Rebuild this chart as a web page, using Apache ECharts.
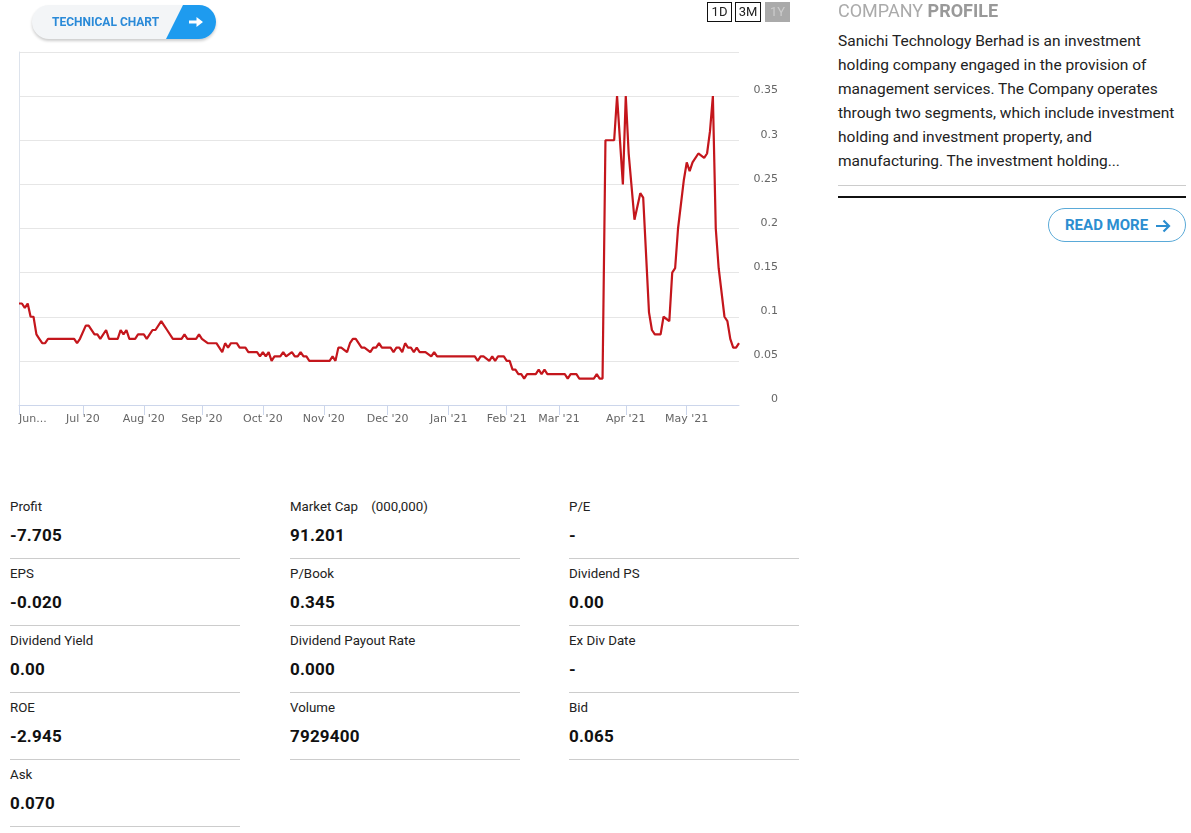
<!DOCTYPE html>
<html lang="en">
<head>
<meta charset="UTF-8">
<title>Technical Chart</title>
<script src="https://cdn.jsdelivr.net/npm/echarts@6/dist/echarts.min.js"></script>
<style>
    body { margin: 0; background: #fff; font-family: Roboto, "Open Sans", sans-serif; color: #222; }
    .page { position: relative; width: 1191px; height: 833px; overflow: hidden; }

    .tech-btn { position: absolute; left: 32px; top: 5px; width: 184px; height: 34px; border-radius: 17px;
        background: #f3f5f7; box-shadow: 0 2px 3px rgba(0, 0, 0, 0.2); overflow: hidden; }
    .tech-btn .txt { position: absolute; left: 20px; top: 0; line-height: 34px; font-size: 12px; font-weight: bold; color: #2a8ad8; }
    .tech-btn .blue { position: absolute; right: 0; top: 0; width: 50px; height: 34px; background: #1e9bef;
        clip-path: polygon(17px 0, 100% 0, 100% 100%, 0 100%); }
    .tech-btn svg { position: absolute; right: 12px; top: 11px; }

    .rng { position: absolute; top: 2px; height: 18px; line-height: 18px; border: 1px solid #111; font-size: 13px; text-align: center; }

    #chart { position: absolute; left: 0; top: 0; width: 800px; height: 440px; }

    .profile { position: absolute; left: 838px; top: 0; width: 350px; }
    .profile h3 { margin: 0; font-size: 18px; line-height: 22px; font-weight: normal; color: #aaa; }
    .profile h3 b { color: #999; }
    .profile p { position: absolute; top: 29px; margin: 0; font-size: 15.5px; line-height: 24px; color: #222; white-space: nowrap; }
    .line-grey { position: absolute; left: 838px; top: 185px; width: 348px; height: 1px; background: #ccc; }
    .line-black { position: absolute; left: 838px; top: 196px; width: 348px; height: 2px; background: #111; }
    .read-more { position: absolute; left: 1048px; top: 208px; width: 136px; height: 32px; border: 1px solid #5aaad8;
        border-radius: 17px; font-size: 15px; font-weight: bold; color: #2c8ed0; line-height: 32px; }
    .read-more span { position: absolute; left: 16px; }
    .read-more svg { position: absolute; left: 106px; top: 10px; }

    .cell { position: absolute; width: 230px; height: 66px; border-bottom: 1px solid #ccc; }
    .cell .lab { position: absolute; left: 0; top: 6px; font-size: 13.3px; line-height: 18px; color: #222; white-space: pre; }
    .cell .val { position: absolute; left: 0; top: 33px; font-size: 17px; line-height: 20px; font-weight: bold; color: #111; letter-spacing: 0.2px; }
</style>
</head>
<body>
<div class="page">
    <div id="chart"></div>

    <div class="tech-btn">
        <span class="txt">TECHNICAL CHART</span>
        <div class="blue"></div>
        <svg width="16" height="12" viewBox="0 0 16 12">
            <path d="M1 4.5 H8.5 V1 L15 6 L8.5 11 V7.5 H1 Z" fill="#fff"/>
        </svg>
    </div>

    <div class="rng" style="left:707px;width:23px;">1D</div>
    <div class="rng" style="left:735px;width:24px;">3M</div>
    <div class="rng" style="left:765px;width:23px;border-color:#aaa;background:#aaa;color:#ccc;">1Y</div>

    <div class="profile">
        <h3>COMPANY <b>PROFILE</b></h3>
        <p>Sanichi Technology Berhad is an investment<br>holding company engaged in the provision of<br>management services. The Company operates<br>through two segments, which include investment<br>holding and investment property, and<br>manufacturing. The investment holding...</p>
    </div>
    <div class="line-grey"></div>
    <div class="line-black"></div>
    <div class="read-more"><span>READ MORE</span>
        <svg width="16" height="14" viewBox="0 0 16 14">
            <path d="M1 7 H14 M8.5 1.5 L14 7 L8.5 12.5" fill="none" stroke="#2c8ed0" stroke-width="2.2"/>
        </svg>
    </div>

    <div id="stats"></div>
</div>

<script>
    // trading session number (0 = first session in June 2020) and closing price
    var session = [0, 1, 2, 3, 4, 5, 6, 7, 8, 9, 10, 19, 20, 21, 23, 24, 26, 27, 28, 30, 31, 34, 35, 36, 37, 38, 40, 41, 43, 44, 45, 46, 47, 49, 50, 51, 53, 56, 57, 58, 61, 62, 63, 65, 68, 70, 71, 72, 73, 75, 76, 78, 79, 82, 83, 84, 85, 86, 87, 88, 90, 91, 92, 94, 95, 96, 97, 98, 99, 100,
        107, 108, 109, 110, 111, 113, 114, 115, 116, 118, 119, 121, 122, 123, 124, 125, 128, 129, 130, 131, 132, 133, 134, 135, 136, 137, 138, 140, 142, 143, 144, 157, 158, 159, 160, 162, 163, 164, 165, 167, 168, 169, 170, 171, 172, 173, 174, 175, 178, 179, 180, 181, 182, 188, 189, 190, 192, 193, 198, 199, 200, 201,
        202, 205, 206, 208, 209, 210, 212, 214, 215, 217, 218, 219, 221, 222, 224, 225, 226, 227, 229, 230, 231, 232, 234, 236, 237, 238, 239, 240, 241, 243, 244, 245, 246, 247, 248];
    var closePrice = [0.115, 0.115, 0.11, 0.115, 0.1, 0.1, 0.08, 0.075, 0.07, 0.07, 0.075, 0.075, 0.07, 0.075, 0.09, 0.09, 0.08, 0.08, 0.075, 0.085, 0.075, 0.075, 0.085, 0.08, 0.085, 0.075, 0.075, 0.08, 0.08, 0.075, 0.08, 0.085, 0.085, 0.095, 0.09, 0.085, 0.075, 0.075, 0.08, 0.075, 0.075, 0.08, 0.075, 0.07, 0.07, 0.06, 0.07, 0.065, 0.07, 0.07, 0.065, 0.065, 0.06, 0.06, 0.055, 0.06, 0.055, 0.06, 0.05, 0.055, 0.055, 0.06, 0.055, 0.06, 0.055, 0.055, 0.06, 0.055, 0.055, 0.05,
        0.05, 0.055, 0.05, 0.065, 0.065, 0.06, 0.07, 0.075, 0.075, 0.065, 0.065, 0.06, 0.065, 0.065, 0.07, 0.065, 0.065, 0.06, 0.065, 0.065, 0.06, 0.07, 0.065, 0.065, 0.06, 0.065, 0.06, 0.06, 0.055, 0.06, 0.055, 0.055, 0.05, 0.055, 0.055, 0.05, 0.055, 0.05, 0.055, 0.055, 0.05, 0.05, 0.04, 0.04, 0.035, 0.035, 0.03, 0.035, 0.035, 0.04, 0.035, 0.04, 0.035, 0.035, 0.03, 0.035, 0.035, 0.03, 0.03, 0.035, 0.03, 0.03,
        0.3, 0.3, 0.35, 0.25, 0.35, 0.285, 0.21, 0.24, 0.235, 0.105, 0.085, 0.08, 0.08, 0.1, 0.095, 0.15, 0.155, 0.2, 0.255, 0.275, 0.265, 0.275, 0.285, 0.28, 0.285, 0.31, 0.35, 0.2, 0.155, 0.1, 0.095, 0.075, 0.065, 0.065, 0.07];

    var monthStarts = [0, 22, 43, 63, 84, 105, 127, 148, 168, 186, 209, 230];
    var monthLabels = ["Jun...", "Jul '20", "Aug '20", "Sep '20", "Oct '20", "Nov '20", "Dec '20", "Jan '21", "Feb '21", "Mar '21", "Apr '21", "May '21"];
    var priceMax = 0.4;
    var priceStep = 0.05;

    var statLabels = ["Profit", "Market Cap    (000,000)", "P/E", "EPS", "P/Book", "Dividend PS", "Dividend Yield", "Dividend Payout Rate", "Ex Div Date", "ROE", "Volume", "Bid", "Ask"];
    var statValues = ["-7.705", "91.201", "-", "-0.020", "0.345", "0.00", "0.00", "0.000", "-", "-2.945", "7929400", "0.065", "0.070"];

    var html = "";
    var colX = [10, 290, 569];
    for (var i = 0; i < statLabels.length; i++) {
        var cellLeft = colX[i % 3];
        var cellTop = 492 + Math.floor(i / 3) * 67;
        html += '<div class="cell" style="left:' + cellLeft + 'px;top:' + cellTop + 'px;">' +
            '<span class="lab">' + statLabels[i] + '</span><span class="val">' + statValues[i] + '</span></div>';
    }
    document.getElementById("stats").innerHTML = html;

    var chart = echarts.init(document.getElementById("chart"));
    var points = [];
    for (var k = 0; k < session.length; k++) {
        points.push([session[k], closePrice[k]]);
    }

    chart.setOption({
        animation: false,
        grid: { left: 19, right: 61, top: 52, bottom: 35 },
        xAxis: {
            type: "value",
            min: 0,
            max: session[session.length - 1],
            splitLine: { show: false },
            axisLine: { lineStyle: { color: "#ccd6eb" } },
            axisTick: { show: true, customValues: monthStarts, length: 10, lineStyle: { color: "#ccd6eb" } },
            axisLabel: {
                customValues: monthStarts,
                formatter: function (v) { return monthLabels[monthStarts.indexOf(v)]; },
                color: "#666",
                fontSize: 11,
                fontFamily: "DejaVu Sans",
                margin: 9,
                alignMinLabel: "left"
            }
        },
        yAxis: {
            type: "value",
            position: "right",
            offset: 50,
            min: 0,
            max: priceMax,
            interval: priceStep,
            splitLine: { lineStyle: { color: "#e6e6e6" } },
            axisLine: { show: true, lineStyle: { color: "#dde3ec" } },
            axisTick: { show: false },
            axisLabel: {
                inside: true,
                margin: 11,
                align: "right",
                verticalAlign: "bottom",
                color: "#666",
                fontSize: 11,
                fontFamily: "DejaVu Sans",
                formatter: function (v) { return v >= priceMax ? "" : String(+v.toFixed(2)); }
            }
        },
        series: [{
            type: "line",
            data: points,
            showSymbol: false,
            lineStyle: { color: "#c4161c", width: 2.2 }
        }]
    });
</script>
</body>
</html>
